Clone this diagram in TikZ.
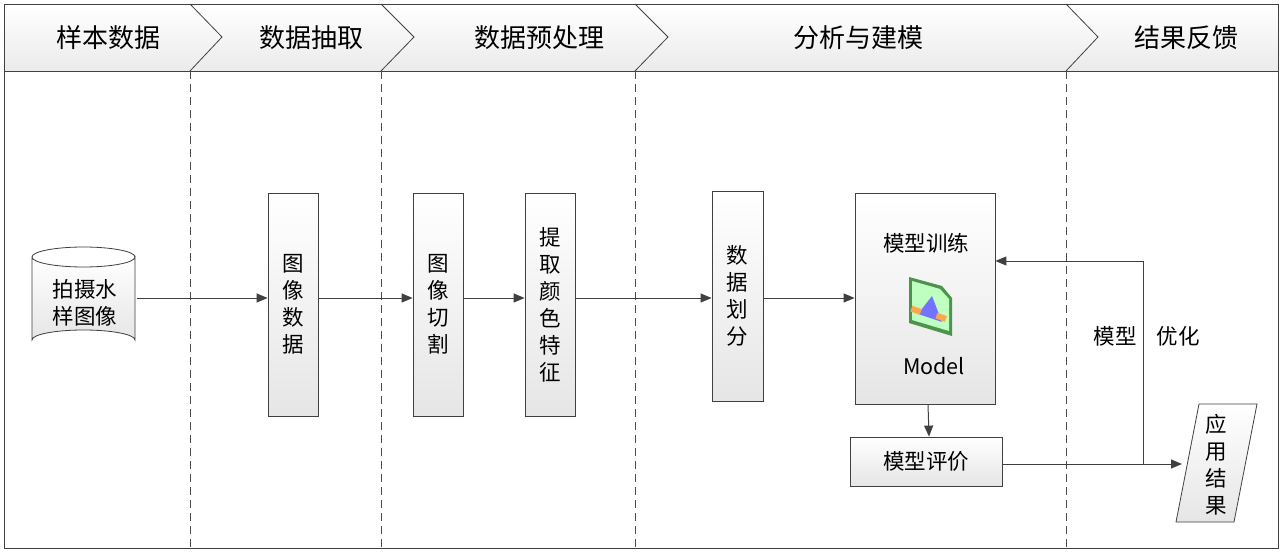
\documentclass[tikz,border=0pt]{standalone}
\usepackage{fontspec}
\setmainfont{Noto Sans CJK SC}
\usetikzlibrary{arrows.meta}
\begin{document}
\begin{tikzpicture}[x=1pt,y=-1pt,
 box/.style={draw=black!75,line width=0.8pt,top color=white,bottom color=black!10,inner sep=0pt},
 arr/.style={draw=black!75,line width=1pt,-{Triangle[length=11pt,width=9pt]}},
 hd/.style={font=\fontsize{26}{30}\selectfont},
 tx/.style={font=\fontsize{21.5}{27}\selectfont,align=center}]
\useasboundingbox (0,0) rectangle (1282,556);
\draw[black!75,line width=0.8pt,fill=white] (4,4) rectangle (1278,548);
% header
\fill[top color=white,bottom color=black!8] (4,4) rectangle (1278,71);
\foreach \b/\c in {190/222,381/414,635/668,1066/1098}
 \draw[black!75,line width=0.8pt] (\b,4) -- (\c,37) -- (\b,71);
\draw[black!75,line width=0.8pt] (4,4) rectangle (1278,71);
\node[hd] (h1) at (108,38) {样本数据};
\node[hd] (h2) at (311,38) {数据抽取};
\node[hd] (h3) at (539,38) {数据预处理};
\node[hd] (h4) at (858,38) {分析与建模};
\node[hd] (h5) at (1186,38) {结果反馈};
\foreach \x in {190,381,635,1066}
 \draw[black!70,dash pattern=on 8pt off 5pt,line width=0.8pt] (\x,71) -- (\x,548);
% cylinder
\draw[box] (32,257) -- (32,340) arc[start angle=180,end angle=360,x radius=51.5,y radius=10] -- (135,257) arc[start angle=0,end angle=180,x radius=51.5,y radius=10];
\draw[black!75,line width=0.8pt] (32,257) arc[start angle=180,end angle=360,x radius=51.5,y radius=10];
\node[tx,minimum width=103pt,minimum height=60pt] (cyl) at (85,303) {拍摄水\\样图像};
\node[box,tx,minimum width=50pt,minimum height=223pt] (b1) at (293,304.5) {图\\像\\数\\据};
\node[box,tx,minimum width=50pt,minimum height=223pt] (b2) at (438,304.5) {图\\像\\切\\割};
\node[box,tx,minimum width=50pt,minimum height=223pt] (b3) at (550,304.5) {提\\取\\颜\\色\\特\\征};
\node[box,tx,minimum width=51pt,minimum height=210pt] (b4) at (737.5,296) {数\\据\\划\\分};
\node[box,minimum width=140pt,minimum height=211pt] (mt) at (925,298.5) {};
\node[tx] (mtl) at (926,243) {模型训练};
\node[tx] (mdl) at (934,366) {Model};
% icon
\begin{scope}[shift={(930,310)}]
\fill[green!40!black!70] (-21,-33) -- (12,-24) -- (22,-12) -- (22,26) -- (-21,13) -- cycle;
\fill[green!25!white] (-18,-29) -- (10,-21) -- (19,-11) -- (19,21) -- (-18,10) -- cycle;
\fill[blue!55] (-12,4) -- (2,-14) -- (12,12) -- cycle;
\fill[orange!70,rotate=-20] (-18,2) rectangle (-8,8);
\fill[orange!70,rotate=-20] (8,0) rectangle (18,6);
\end{scope}
\node[box,tx,minimum width=152pt,minimum height=49pt] (me) at (926,461.5) {模型评价};
\draw[box] (1199,404) -- (1257,404) -- (1234,522) -- (1176,522) -- cycle;
\node[tx] (res) at (1216,465) {应\\用\\结\\果};
\draw[arr] (cyl.east |- 0,298) -- (b1.west |- 0,298);
\draw[arr] (b1.east |- 0,298) -- (b2.west |- 0,298);
\draw[arr] (b2.east |- 0,298) -- (b3.west |- 0,298);
\draw[arr] (b3.east |- 0,298) -- (b4.west |- 0,298);
\draw[arr] (b4.east |- 0,298) -- (mt.west |- 0,298);
\draw[arr] ([xshift=3pt]mt.south) -- ([xshift=3pt]me.north);
\coordinate (r) at (1182,464);
\draw[arr] (me.east |- r) -- (r);
\draw[arr] (1143,464) -- (1143,261) -- (mt.east |- 0,261);
\node[tx] (o1) at (1115,336) {模型};
\node[tx] (o2) at (1178,336) {优化};
\end{tikzpicture}
\end{document}
